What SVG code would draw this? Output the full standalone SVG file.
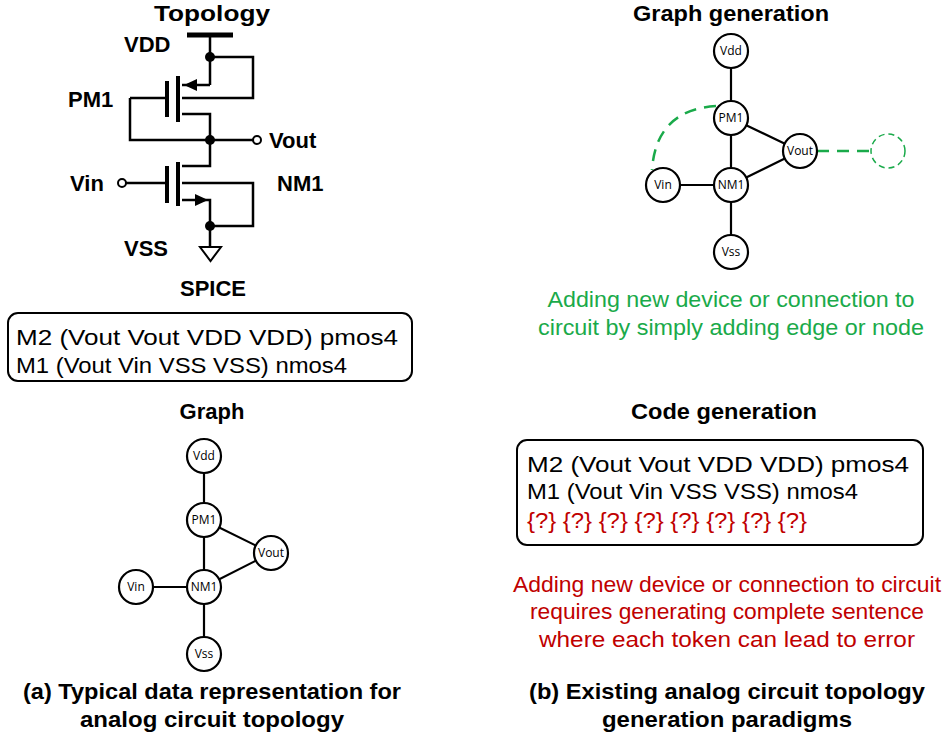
<svg xmlns="http://www.w3.org/2000/svg" width="946" height="748" viewBox="0 0 946 748">
<style>
text{font-family:"Liberation Sans",Arial,sans-serif;fill:#000}
.t{font-size:22px;font-weight:bold;text-anchor:middle}
.b{font-size:22px;font-weight:bold}
.s{font-size:22px}
.n{font-size:12px;text-anchor:middle;font-family:"Open Sans","DejaVu Sans",sans-serif}
.w{stroke:#000;stroke-width:2.5;fill:none}
.nd{fill:#fff;stroke:#000;stroke-width:2.2}
.e{stroke:#000;stroke-width:2.2;fill:none}
.g{stroke:#1aaa4a;stroke-width:2.5;fill:none;stroke-dasharray:12,8}
</style>
<g id="circuit">
<text class="t" x="212" y="21" textLength="116" lengthAdjust="spacingAndGlyphs">Topology</text>
<line x1="187" y1="35" x2="233" y2="35" stroke="#000" stroke-width="5"/>
<path class="w" d="M210,35 V85 M210,57 H253 V98 H182 M182,85 H210 M182,114 H210 V166 H182 M130,98 H167 M130,98 V140 H253 M182,183 H253 V226 H210 M182,200 H210 V247 M126,183 H167"/>
<path d="M184,85 L197,79 L197,91 Z"/>
<path d="M208,200 L195,194 L195,206 Z"/>
<line x1="178" y1="76" x2="178" y2="122" stroke="#000" stroke-width="4"/>
<line x1="167" y1="81" x2="167" y2="117" stroke="#000" stroke-width="4"/>
<line x1="178" y1="162" x2="178" y2="206" stroke="#000" stroke-width="4"/>
<line x1="167" y1="166" x2="167" y2="203" stroke="#000" stroke-width="4"/>
<circle cx="210" cy="57" r="5"/><circle cx="210" cy="140" r="5"/><circle cx="210" cy="226" r="5"/>
<circle cx="257" cy="140" r="4" fill="#fff" stroke="#000" stroke-width="2"/>
<circle cx="122" cy="183" r="4" fill="#fff" stroke="#000" stroke-width="2"/>
<path d="M200,247 H221 L210.5,261 Z" fill="#fff" stroke="#000" stroke-width="2"/>
<text class="b" x="124" y="52">VDD</text>
<text class="b" x="68" y="107">PM1</text>
<text class="b" x="269" y="148">Vout</text>
<text class="b" x="70" y="191">Vin</text>
<text class="b" x="277" y="191">NM1</text>
<text class="b" x="124" y="256">VSS</text>
<text class="t" x="213" y="296">SPICE</text>
</g>
<g id="spice">
<rect x="8" y="313" width="404" height="68" rx="10" fill="none" stroke="#000" stroke-width="2"/>
<text class="s" x="16" y="345" textLength="382" lengthAdjust="spacingAndGlyphs">M2 (Vout Vout VDD VDD) pmos4</text>
<text class="s" x="16" y="373" textLength="331" lengthAdjust="spacingAndGlyphs">M1 (Vout Vin VSS VSS) nmos4</text>
</g>
<text class="t" x="212" y="419">Graph</text>
<g id="connectors">
<path class="e" d="M204,456 V654 M204,520 L271,553 L204,587 M136,587 H204"/>
<path class="e" d="M731,51 V252 M731,118 L800,151 L731,185 M663,185 H731"/>
<path class="g" d="M716,106 Q656,110 652,170"/>
<path class="g" d="M817,151 H871"/>
</g>
<g id="left-graph">
<g id="l-vdd"><circle class="nd" cx="204" cy="456" r="17"/><text class="n" x="204" y="460">Vdd</text></g>
<g id="l-pm1"><circle class="nd" cx="204" cy="520" r="17"/><text class="n" x="204" y="524">PM1</text></g>
<g id="l-vout"><circle class="nd" cx="271" cy="553" r="17"/><text class="n" x="271" y="557">Vout</text></g>
<g id="l-vin"><circle class="nd" cx="136" cy="587" r="17"/><text class="n" x="136" y="591">Vin</text></g>
<g id="l-nm1"><circle class="nd" cx="204" cy="587" r="17"/><text class="n" x="204" y="591">NM1</text></g>
<g id="l-vss"><circle class="nd" cx="204" cy="654" r="17"/><text class="n" x="204" y="658">Vss</text></g>
</g>
<text class="t" x="731" y="21" textLength="196" lengthAdjust="spacingAndGlyphs">Graph generation</text>
<g id="right-graph">
<g id="r-vdd"><circle class="nd" cx="731" cy="51" r="17"/><text class="n" x="731" y="55">Vdd</text></g>
<g id="r-pm1"><circle class="nd" cx="731" cy="118" r="17"/><text class="n" x="731" y="122">PM1</text></g>
<g id="r-vout"><circle class="nd" cx="800" cy="151" r="17"/><text class="n" x="800" y="155">Vout</text></g>
<g id="r-vin"><circle class="nd" cx="663" cy="185" r="17"/><text class="n" x="663" y="189">Vin</text></g>
<g id="r-nm1"><circle class="nd" cx="731" cy="185" r="17"/><text class="n" x="731" y="189">NM1</text></g>
<g id="r-vss"><circle class="nd" cx="731" cy="252" r="17"/><text class="n" x="731" y="256">Vss</text></g>
<g id="r-new"><circle cx="888" cy="151" r="17" fill="none" stroke="#1aaa4a" stroke-width="1.5" stroke-dasharray="6,4"/></g>
</g>
<text class="s" x="731" y="307" text-anchor="middle" style="fill:#1aaa4a" textLength="367" lengthAdjust="spacingAndGlyphs">Adding new device or connection to</text>
<text class="s" x="731" y="335" text-anchor="middle" style="fill:#1aaa4a" textLength="386" lengthAdjust="spacingAndGlyphs">circuit by simply adding edge or node</text>
<text class="t" x="724" y="419" textLength="186" lengthAdjust="spacingAndGlyphs">Code generation</text>
<g id="code">
<rect x="517" y="440" width="406" height="105" rx="10" fill="none" stroke="#000" stroke-width="2"/>
<text class="s" x="527" y="472" textLength="382" lengthAdjust="spacingAndGlyphs">M2 (Vout Vout VDD VDD) pmos4</text>
<text class="s" x="527" y="499" textLength="331" lengthAdjust="spacingAndGlyphs">M1 (Vout Vin VSS VSS) nmos4</text>
<text class="s" x="527" y="528" style="fill:#c00000" textLength="280" lengthAdjust="spacingAndGlyphs">{?} {?} {?} {?} {?} {?} {?} {?}</text>
</g>
<text class="s" x="727" y="592" text-anchor="middle" style="fill:#c00000" textLength="428" lengthAdjust="spacingAndGlyphs">Adding new device or connection to circuit</text>
<text class="s" x="727" y="619" text-anchor="middle" style="fill:#c00000" textLength="394" lengthAdjust="spacingAndGlyphs">requires generating complete sentence</text>
<text class="s" x="727" y="647" text-anchor="middle" style="fill:#c00000" textLength="376" lengthAdjust="spacingAndGlyphs">where each token can lead to error</text>
<text class="t" x="212" y="699" textLength="378" lengthAdjust="spacingAndGlyphs">(a) Typical data representation for</text>
<text class="t" x="212" y="727" textLength="264" lengthAdjust="spacingAndGlyphs">analog circuit topology</text>
<text class="t" x="727" y="699" textLength="396" lengthAdjust="spacingAndGlyphs">(b) Existing analog circuit topology</text>
<text class="t" x="727" y="727" textLength="250" lengthAdjust="spacingAndGlyphs">generation paradigms</text>
</svg>
